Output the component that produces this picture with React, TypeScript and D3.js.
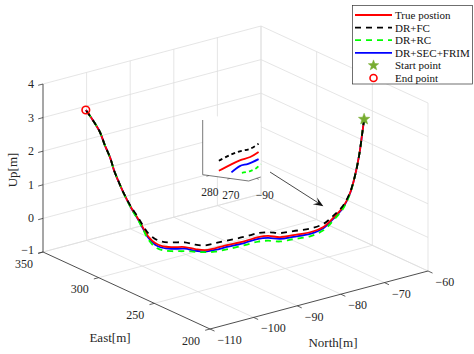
import React from "react";
import * as d3 from "d3";

// ---------------- data (main 3-D trajectory) ----------------
const EAST = [242.5, 243.2, 244.2, 245.5, 247.3, 249.7, 253.1, 256.4, 260.9, 266.6, 271.0, 275.1, 278.5, 283.0, 288.7, 293.1, 296.5, 299.9, 303.3, 307.8, 311.1, 313.5, 315.9, 317.5, 319.6, 321.3, 323.0, 324.7, 326.1, 327.4, 328.8, 330.5, 332.2, 334.6, 337.0];
const NORTH = [-63.8, -64.1, -64.5, -65.1, -65.8, -66.8, -68.2, -69.6, -71.5, -73.9, -75.8, -77.5, -78.9, -80.8, -83.2, -85.1, -86.5, -87.9, -89.4, -91.2, -92.6, -93.6, -94.6, -95.3, -96.2, -96.9, -97.6, -98.3, -98.9, -99.5, -100.0, -100.8, -101.5, -102.5, -103.5];
const UP_TRUE = [3.0, 2.53, 1.93, 1.33, 0.8, 0.38, 0.05, -0.22, -0.38, -0.47, -0.53, -0.5, -0.54, -0.66, -0.78, -0.88, -0.94, -0.91, -0.85, -0.86, -0.83, -0.74, -0.54, -0.3, 0.03, 0.26, 0.53, 0.83, 1.12, 1.42, 1.78, 2.16, 2.55, 2.9, 3.2];
const UP_FC = [3.0, 2.53, 1.93, 1.33, 0.82, 0.42, 0.11, -0.13, -0.27, -0.35, -0.41, -0.39, -0.42, -0.53, -0.64, -0.73, -0.8, -0.78, -0.71, -0.72, -0.7, -0.62, -0.45, -0.24, 0.07, 0.28, 0.54, 0.83, 1.12, 1.42, 1.78, 2.16, 2.55, 2.9, 3.2];
const UP_RC = [3.0, 2.53, 1.93, 1.33, 0.78, 0.33, -0.03, -0.32, -0.5, -0.59, -0.66, -0.64, -0.67, -0.78, -0.9, -0.98, -1.0, -0.99, -0.97, -0.98, -0.95, -0.86, -0.63, -0.35, 0.0, 0.24, 0.52, 0.83, 1.12, 1.42, 1.78, 2.16, 2.55, 2.9, 3.2];
const UP_SEC = [3.0, 2.53, 1.93, 1.33, 0.79, 0.36, 0.02, -0.26, -0.43, -0.52, -0.58, -0.56, -0.59, -0.71, -0.83, -0.93, -0.98, -0.96, -0.9, -0.91, -0.88, -0.79, -0.58, -0.33, 0.01, 0.25, 0.53, 0.83, 1.12, 1.42, 1.78, 2.16, 2.55, 2.9, 3.2];

// ---------------- data (zoomed inset) ----------------
const INSET_N = -89;
const INSET_E_TRUE = [281, 276, 271, 266, 262];
const INSET_UP_TRUE = [-0.896, -0.846, -0.799, -0.764, -0.719];
const INSET_E_FC = [281, 276, 271, 266, 262];
const INSET_UP_FC = [-0.823, -0.773, -0.733, -0.704, -0.659];
const INSET_E_SEC = [275, 271, 267, 262];
const INSET_UP_SEC = [-0.896, -0.841, -0.816, -0.771];
const INSET_E_RC = [270, 266, 263, 261];
const INSET_UP_RC = [-0.888, -0.867, -0.838, -0.805];

// ---------------- ticks ----------------
const EAST_TICKS = [350, 300, 250, 200];
const NORTH_TICKS = [-110, -100, -90, -80, -70, -60];
const UP_TICKS = [-1, 0, 1, 2, 3, 4];
const INSET_EAST_TICKS = [280, 270];
const INSET_NORTH_TICKS = [-90];

// arrow annotation (data coords: East, North, Up)
const ARROW_FROM = [274.5, -77.2, 1.4];
const ARROW_TO = [256.4, -69.6, 0.4];

const LEGEND = [
  { label: "True postion", color: "#ff0000", dash: null, kind: "line" },
  { label: "DR+FC", color: "#000000", dash: "6,5", kind: "line" },
  { label: "DR+RC", color: "#00ff00", dash: "6,5", kind: "line" },
  { label: "DR+SEC+FRIM", color: "#0000ff", dash: null, kind: "line" },
  { label: "Start point", color: "#77AC30", dash: null, kind: "star" },
  { label: "End point", color: "#ff0000", dash: null, kind: "circle" },
];

const FONT = "'Liberation Serif', 'Times New Roman', serif";
const GRID = "#dedede";
const AXIS = "#3a3a3a";

// ---------------- projection ----------------
const X0 = 43, Y0 = 252;
const eX = d3.scaleLinear().domain([350, 200]).range([0, 167]);
const eY = d3.scaleLinear().domain([350, 200]).range([0, 77]);
const nX = d3.scaleLinear().domain([-110, -60]).range([0, 218]);
const nY = d3.scaleLinear().domain([-110, -60]).range([0, -58]);
const zY = d3.scaleLinear().domain([-1, 4]).range([0, -168]);
const P = (e: number, n: number, u: number): [number, number] => [
  X0 + eX(e) + nX(n),
  Y0 + eY(e) + nY(n) + zY(u),
];

// inset projection
const IX0 = 202.7, IY0 = 174.7;
const ieX = d3.scaleLinear().domain([283, 261]).range([0, 46]);
const ieY = d3.scaleLinear().domain([283, 261]).range([0, 6.3]);
const inX = d3.scaleLinear().domain([-92, -89]).range([0, 12]);
const inY = d3.scaleLinear().domain([-92, -89]).range([0, -4]);
const izY = d3.scaleLinear().domain([-0.9, -0.5]).range([0, -54.7]);
const IP = (e: number, n: number, u: number): [number, number] => [
  IX0 + ieX(e) + inX(n),
  IY0 + ieY(e) + inY(n) + izY(u),
];

const curve = d3.line<[number, number]>().curve(d3.curveCatmullRom.alpha(0.5));
const straight = d3.line<[number, number]>();

function seg(a: [number, number], b: [number, number], stroke: string, w = 0.8, key?: string) {
  return <line key={key} x1={a[0]} y1={a[1]} x2={b[0]} y2={b[1]} stroke={stroke} strokeWidth={w} />;
}

function starPath(cx: number, cy: number, R: number) {
  const pts: [number, number][] = [];
  for (let i = 0; i < 10; i++) {
    const r = i % 2 === 0 ? R : R * 0.42;
    const a = -Math.PI / 2 + (i * Math.PI) / 5;
    pts.push([cx + r * Math.cos(a), cy + r * Math.sin(a)]);
  }
  return straight(pts) + "Z";
}

export default function App() {
  const eMin = 200, eMax = 350, nMin = -110, nMax = -60, zMin = -1, zMax = 4;
  const grid: JSX.Element[] = [];
  EAST_TICKS.forEach((e) => {
    if (e !== eMin) grid.push(seg(P(e, nMin, zMin), P(e, nMax, zMin), GRID, 0.8, "fe" + e));
  });
  NORTH_TICKS.forEach((n) => {
    if (n !== nMin) grid.push(seg(P(eMin, n, zMin), P(eMax, n, zMin), GRID, 0.8, "fn" + n));
  });
  NORTH_TICKS.forEach((n) => {
    if (n !== nMin) grid.push(seg(P(eMax, n, zMin), P(eMax, n, zMax), GRID, 0.8, "wn" + n));
  });
  UP_TICKS.forEach((z) => {
    grid.push(seg(P(eMax, nMin, z), P(eMax, nMax, z), GRID, 0.8, "wz1" + z));
    grid.push(seg(P(eMax, nMax, z), P(eMin, nMax, z), GRID, 0.8, "wz2" + z));
  });
  EAST_TICKS.forEach((e) => {
    grid.push(seg(P(e, nMax, zMin), P(e, nMax, zMax), GRID, 0.8, "we" + e));
  });

  const tickLen = 5;
  const dirNeg = (a: [number, number], b: [number, number]) => {
    const dx = a[0] - b[0], dy = a[1] - b[1];
    const l = Math.hypot(dx, dy);
    return [dx / l, dy / l];
  };
  const outN = dirNeg(P(eMax, nMin, zMin), P(eMax, nMax, zMin));
  const outE = dirNeg(P(eMin, nMin, zMin), P(eMax, nMin, zMin));

  const series = (ups: number[]) => EAST.map((e, i) => P(e, NORTH[i], ups[i]));
  const inset = (es: number[], ups: number[]) => es.map((e, i) => IP(e, INSET_N, ups[i]));

  const start = P(EAST[0], NORTH[0], UP_TRUE[0]);
  const end = P(EAST[EAST.length - 1], NORTH[NORTH.length - 1], UP_TRUE[UP_TRUE.length - 1]);

  const iHull: [number, number][] = [
    IP(283, -92, -0.5), IP(283, -89, -0.5), IP(261, -89, -0.5),
    IP(261, -89, -0.9), IP(261, -92, -0.9), IP(283, -92, -0.9),
  ];

  const aFrom = P(ARROW_FROM[0], ARROW_FROM[1], ARROW_FROM[2]);
  const aTo = P(ARROW_TO[0], ARROW_TO[1], ARROW_TO[2]);
  const ang = Math.atan2(aTo[1] - aFrom[1], aTo[0] - aFrom[0]);
  const headL = 10, headW = 4;
  const back: [number, number] = [aTo[0] - headL * Math.cos(ang), aTo[1] - headL * Math.sin(ang)];
  const notch: [number, number] = [aTo[0] - headL * 0.6 * Math.cos(ang), aTo[1] - headL * 0.6 * Math.sin(ang)];
  const head: [number, number][] = [
    aTo,
    [back[0] + headW * Math.sin(ang), back[1] - headW * Math.cos(ang)],
    notch,
    [back[0] - headW * Math.sin(ang), back[1] + headW * Math.cos(ang)],
  ];

  return (
    <svg width={474} height={354} style={{ position: "fixed", left: 0, top: 0, background: "#fff" }} fontFamily={FONT}>
      <rect x={0} y={0} width={474} height={354} fill="#fff" />
      <g>{grid}</g>

      {seg(P(eMax, nMin, zMin), P(eMax, nMin, zMax), AXIS, 0.9, "az")}
      {seg(P(eMax, nMin, zMin), P(eMin, nMin, zMin), AXIS, 0.9, "ae")}
      {seg(P(eMin, nMin, zMin), P(eMin, nMax, zMin), AXIS, 0.9, "an")}

      {UP_TICKS.map((z) => {
        const p = P(eMax, nMin, z);
        return (
          <g key={"zt" + z}>
            <line x1={p[0]} y1={p[1]} x2={p[0] + outN[0] * tickLen} y2={p[1] + outN[1] * tickLen} stroke={AXIS} strokeWidth={0.8} />
            <text x={p[0] - 9} y={p[1] - (z === -1 ? 2 : 0)} textAnchor="end" dominantBaseline="central" fontSize={12} fill="#262626">
              {z < 0 ? "\u2212" + Math.abs(z) : z}
            </text>
          </g>
        );
      })}
      {EAST_TICKS.map((e) => {
        const p = P(e, nMin, zMin);
        return (
          <g key={"et" + e}>
            <line x1={p[0]} y1={p[1]} x2={p[0] + outN[0] * tickLen} y2={p[1] + outN[1] * tickLen} stroke={AXIS} strokeWidth={0.8} />
            <text x={p[0] - 10} y={p[1] + 11.5} textAnchor="end" dominantBaseline="central" fontSize={12} fill="#262626">
              {e}
            </text>
          </g>
        );
      })}
      {NORTH_TICKS.map((n) => {
        const p = P(eMin, n, zMin);
        return (
          <g key={"nt" + n}>
            <line x1={p[0]} y1={p[1]} x2={p[0] + outE[0] * tickLen} y2={p[1] + outE[1] * tickLen} stroke={AXIS} strokeWidth={0.8} />
            <text x={p[0] + 7.5} y={p[1] + 11} textAnchor="start" dominantBaseline="central" fontSize={12} fill="#262626">
              {"\u2212" + Math.abs(n)}
            </text>
          </g>
        );
      })}

      <text x={110} y={337.5} textAnchor="middle" dominantBaseline="central" fontSize={13} fill="#262626">East[m]</text>
      <text x={333} y={342} textAnchor="middle" dominantBaseline="central" fontSize={13} fill="#262626">North[m]</text>
      <text x={12} y={170} textAnchor="middle" dominantBaseline="central" fontSize={13} fill="#262626" transform="rotate(-90 12 170)">Up[m]</text>

      <path d={curve(series(UP_SEC)) || ""} fill="none" stroke="#0000ff" strokeWidth={1.8} />
      <path d={curve(series(UP_TRUE)) || ""} fill="none" stroke="#ff0000" strokeWidth={1.8} />
      <path d={curve(series(UP_RC)) || ""} fill="none" stroke="#00ff00" strokeWidth={1.8} strokeDasharray="6,5" />
      <path d={curve(series(UP_FC)) || ""} fill="none" stroke="#000000" strokeWidth={1.8} strokeDasharray="6,5" />

      <path d={starPath(start[0], start[1], 6)} fill="#77AC30" stroke="#77AC30" strokeWidth={0.5} />
      <circle cx={end[0]} cy={end[1]} r={3.8} fill="none" stroke="#ff0000" strokeWidth={1.6} />

      <path d={straight(iHull) + "Z"} fill="#fff" />
      {seg(IP(283, -92, -0.9), IP(283, -92, -0.5), "#555", 0.8, "iz")}
      {seg(IP(283, -92, -0.9), IP(261, -92, -0.9), "#555", 0.8, "ie")}
      {seg(IP(261, -92, -0.9), IP(261, -89, -0.9), "#555", 0.8, "in")}
      {INSET_EAST_TICKS.map((e) => {
        const p = IP(e, -92, -0.9);
        return (
          <g key={"iet" + e}>
            <line x1={p[0]} y1={p[1]} x2={p[0] - 2.5} y2={p[1] + 0.7} stroke="#555" strokeWidth={0.7} />
            <text x={p[0] + 1} y={p[1] + 16.5} textAnchor="middle" dominantBaseline="central" fontSize={11.5} fill="#262626">{e}</text>
          </g>
        );
      })}
      {INSET_NORTH_TICKS.map((n) => {
        const p = IP(261, n, -0.9);
        return (
          <g key={"int" + n}>
            <line x1={p[0]} y1={p[1]} x2={p[0] + 2} y2={p[1] + 1} stroke="#555" strokeWidth={0.7} />
            <text x={p[0] + 8} y={p[1] + 17} textAnchor="middle" dominantBaseline="central" fontSize={11.5} fill="#262626">{"\u2212" + Math.abs(n)}</text>
          </g>
        );
      })}
      <path d={curve(inset(INSET_E_SEC, INSET_UP_SEC)) || ""} fill="none" stroke="#0000ff" strokeWidth={1.8} />
      <path d={curve(inset(INSET_E_TRUE, INSET_UP_TRUE)) || ""} fill="none" stroke="#ff0000" strokeWidth={1.8} />
      <path d={curve(inset(INSET_E_RC, INSET_UP_RC)) || ""} fill="none" stroke="#00ff00" strokeWidth={1.8} strokeDasharray="4,3" />
      <path d={curve(inset(INSET_E_FC, INSET_UP_FC)) || ""} fill="none" stroke="#000000" strokeWidth={1.8} strokeDasharray="4,3" />

      <line x1={aFrom[0]} y1={aFrom[1]} x2={notch[0]} y2={notch[1]} stroke="#333" strokeWidth={0.9} />
      <path d={straight(head) + "Z"} fill="#111" />

      <rect x={352.5} y={5.5} width={120} height={78.5} fill="#fff" stroke="#333" strokeWidth={0.7} />
      {LEGEND.map((d, i) => {
        const y = 15 + i * 12.6;
        return (
          <g key={d.label}>
            {d.kind === "line" && (
              <line x1={355} x2={392} y1={y} y2={y} stroke={d.color} strokeWidth={1.8} strokeDasharray={d.dash || undefined} />
            )}
            {d.kind === "star" && <path d={starPath(373.5, y, 5.5)} fill={d.color} stroke={d.color} strokeWidth={0.5} />}
            {d.kind === "circle" && <circle cx={373.5} cy={y} r={3.5} fill="none" stroke={d.color} strokeWidth={1.6} />}
            <text x={395} y={y} dominantBaseline="central" fontSize={11} fill="#111">{d.label}</text>
          </g>
        );
      })}
    </svg>
  );
}
